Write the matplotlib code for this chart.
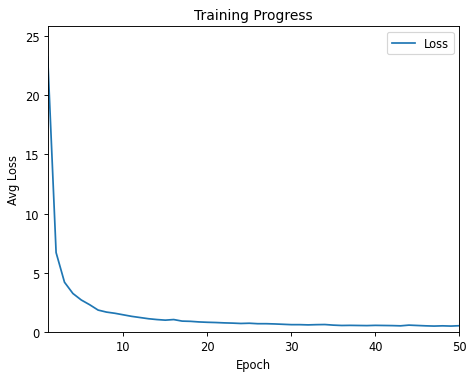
import matplotlib
matplotlib.use("Agg")
import matplotlib.pyplot as plt

epochs = list(range(1, 51))
loss = [23.2, 6.7, 4.2, 3.25, 2.7, 2.3, 1.85, 1.68, 1.58, 1.45,
        1.32, 1.22, 1.12, 1.05, 1.0, 1.05, 0.92, 0.9, 0.85, 0.82,
        0.8, 0.77, 0.75, 0.72, 0.74, 0.7, 0.7, 0.68, 0.65, 0.62,
        0.62, 0.6, 0.62, 0.63, 0.58, 0.55, 0.56, 0.55, 0.54, 0.56,
        0.55, 0.54, 0.52, 0.58, 0.55, 0.52, 0.5, 0.52, 0.5, 0.53]

DPI = 83
fig = plt.figure(figsize=(474/DPI, 377/DPI), dpi=DPI)
ax = fig.add_axes([47.7/474, 1-333/377, (459.3-47.7)/474, (333-27.3)/377])
ax.plot(epochs, loss, label="Loss", color="#1f77b4", linewidth=1.5)
ax.set_xlim(1, 50)
ax.set_ylim(0, 25.8)
ax.set_xticks([10, 20, 30, 40, 50])
ax.set_yticks([0, 5, 10, 15, 20, 25])
ax.set_title("Training Progress")
ax.set_xlabel("Epoch")
ax.set_ylabel("Avg Loss")
ax.legend(loc="upper right")
fig.savefig("out.png", dpi=DPI)
